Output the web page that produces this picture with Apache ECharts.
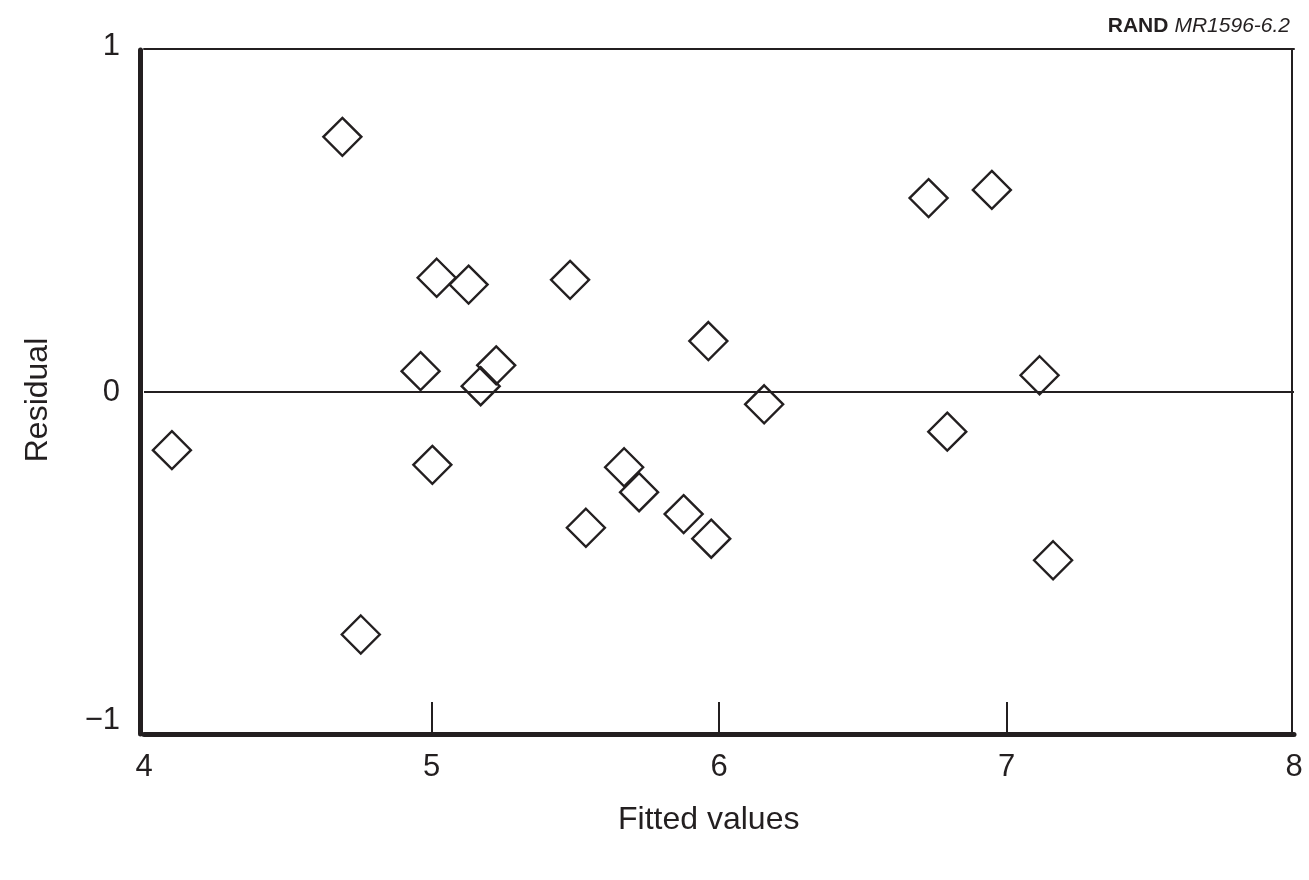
<!DOCTYPE html>
<html>
<head>
<meta charset="utf-8">
<script src="https://cdn.jsdelivr.net/npm/echarts@6/dist/echarts.min.js"></script>
<style>
html,body{margin:0;padding:0;background:#fff;}
#chart{width:1309px;height:880px;}
</style>
</head>
<body>
<div id="chart"></div>
<script>
// Data
const fittedValues = [4.097, 4.690, 4.754, 4.962, 5.003, 5.018, 5.129, 5.171, 5.225, 5.482, 5.537,
                      5.670, 5.722, 5.877, 5.963, 5.973, 6.157, 6.729, 6.794, 6.949, 7.115, 7.162];
const residuals    = [-0.170, 0.746, -0.709, 0.061, -0.213, 0.334, 0.314, 0.017, 0.078, 0.328, -0.397,
                      -0.220, -0.293, -0.357, 0.149, -0.429, -0.036, 0.567, -0.116, 0.591, 0.049, -0.492];
const xTicks = [4, 5, 6, 7, 8];
const xInnerTicks = [5, 6, 7];
const yTicks = [-1, 0, 1];
const xTitle = 'Fitted values';
const yTitle = 'Residual';
const sourceBold = 'RAND';
const sourceItalic = 'MR1596-6.2';

const ink = '#231f20';
const font = '"Liberation Sans", Arial, Helvetica, sans-serif';
const points = fittedValues.map((x, i) => [x, residuals[i]]);

const chart = echarts.init(document.getElementById('chart'));
chart.setOption({
  backgroundColor: '#ffffff',
  animation: false,
  grid: { left: 144, top: 50, width: 1150, height: 684, show: false },
  xAxis: [{
    type: 'value', min: xTicks[0], max: xTicks[xTicks.length - 1], interval: 1,
    axisLine: { show: true, onZero: false, lineStyle: { color: ink, width: 5 } },
    axisTick: { show: true, inside: true, length: 32, customValues: xInnerTicks,
      lineStyle: { color: ink, width: 2 } },
    axisLabel: { color: ink, fontSize: 31, fontFamily: font, margin: 18 },
    splitLine: { show: false }
  }, {
    type: 'value', position: 'top', offset: 1,
    min: xTicks[0], max: xTicks[xTicks.length - 1], interval: 1,
    axisLine: { show: true, onZero: false, lineStyle: { color: ink, width: 2 } },
    axisTick: { show: false }, axisLabel: { show: false }, splitLine: { show: false }
  }],
  yAxis: [{
    type: 'value', min: yTicks[0], max: yTicks[yTicks.length - 1], interval: 1,
    offset: 4,
    axisLine: { show: true, onZero: false, lineStyle: { color: ink, width: 5 } },
    axisTick: { show: false },
    axisLabel: { color: ink, fontSize: 31, fontFamily: font, margin: 20,
      formatter: v => v < 0 ? '{lo|\u2212' + Math.abs(v) + '}' : (v > 0 ? '{hi|' + v + '}' : String(v)),
      rich: {
        lo: { fontSize: 31, fontFamily: font, color: ink, padding: [0, 0, 28, 0] },
        hi: { fontSize: 31, fontFamily: font, color: ink, padding: [0, 0, 8, 0] }
      } },
    splitLine: { show: false }
  }, {
    type: 'value', position: 'right', offset: -2,
    min: yTicks[0], max: yTicks[yTicks.length - 1], interval: 1,
    axisLine: { show: true, onZero: false, lineStyle: { color: ink, width: 2 } },
    axisTick: { show: false }, axisLabel: { show: false }, splitLine: { show: false }
  }],
  graphic: [
    { type: 'text', left: 618, top: 804,
      style: { text: xTitle, fill: ink, font: '32px ' + font } },
    { type: 'text', x: 38, y: 400, rotation: Math.PI / 2,
      style: { text: yTitle, fill: ink, font: '32px ' + font, textAlign: 'center', textVerticalAlign: 'middle' } },
    { type: 'text', right: 19, top: 16,
      style: {
        text: '{b|' + sourceBold + '}{i|' + sourceItalic + '}',
        rich: {
          b: { fontSize: 21, fontWeight: 'bold', fontFamily: font, fill: ink, color: ink, padding: [0, 6, 0, 0] },
          i: { fontSize: 21, fontStyle: 'italic', fontFamily: font, fill: ink, color: ink }
        }
      } }
  ],
  series: [{
    type: 'scatter',
    data: points,
    symbol: 'diamond',
    symbolSize: 38,
    itemStyle: { color: 'rgba(0,0,0,0)', borderColor: ink, borderWidth: 2.4, opacity: 1 },
    markLine: {
      silent: true, symbol: 'none', label: { show: false },
      lineStyle: { color: ink, width: 2, type: 'solid' },
      data: [{ yAxis: 0 }]
    }
  }]
});
</script>
</body>
</html>
